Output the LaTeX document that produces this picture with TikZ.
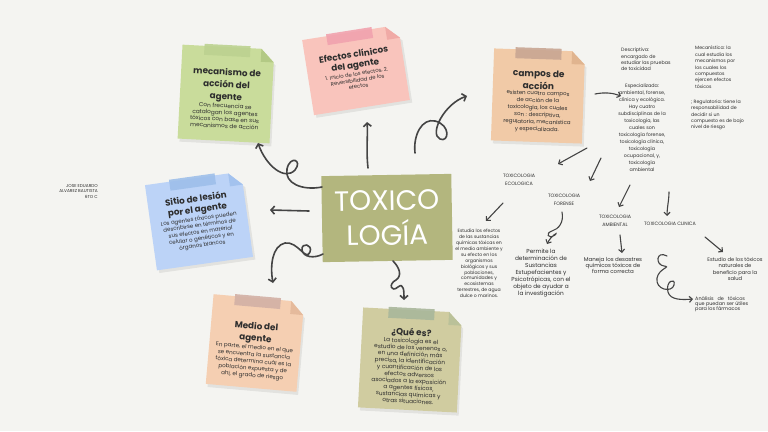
\documentclass[tikz,border=0pt]{standalone}
\usepackage{fontspec}
\setmainfont{Poppins}
\newfontfamily\headfont{Poppins}
\usetikzlibrary{arrows.meta}
\definecolor{ink}{HTML}{444444}
\definecolor{txt}{HTML}{2E2E2E}
\definecolor{bg}{HTML}{F4F4F1}
\definecolor{olive}{HTML}{B3B67E}
\definecolor{greenA}{HTML}{C9DC9B}\definecolor{greenB}{HTML}{B3C985}\definecolor{greenC}{HTML}{BCD290}
\definecolor{pinkA}{HTML}{F9C4BC}\definecolor{pinkB}{HTML}{F0AAA6}\definecolor{pinkC}{HTML}{F1A2AE}
\definecolor{peachA}{HTML}{F1CAA7}\definecolor{peachB}{HTML}{E0B48F}\definecolor{peachC}{HTML}{C8A693}
\definecolor{blueA}{HTML}{BCD3F7}\definecolor{blueB}{HTML}{A3C2EE}\definecolor{blueC}{HTML}{9EBFEA}
\definecolor{apriA}{HTML}{F5CFB2}\definecolor{apriB}{HTML}{E5BA9C}\definecolor{apriC}{HTML}{D2B0A5}
\definecolor{khakiA}{HTML}{D0CCA0}\definecolor{khakiB}{HTML}{BAC199}\definecolor{khakiC}{HTML}{A9B79B}
\tikzset{
  nt/.style={font=\headfont\bfseries\fontsize{9}{11}\selectfont},
  nb/.style={font=\fontsize{5.7}{6.5}\selectfont},
  ntitle/.style={nt, align=center, anchor=north, inner sep=0pt, transform shape, text=txt},
  nbody/.style={nb, align=center, anchor=north, inner sep=1pt, transform shape, text=txt},
  small/.style={font=\fontsize{4.6}{5.8}\selectfont, align=center, inner sep=0pt, text=txt},
  curly/.style={draw=ink, line width=1.6pt, line cap=round, line join=round, -{Straight Barb[length=3.5pt,width=8pt]}},
  thinarr/.style={draw=ink, line width=1.1pt, line cap=round, -{Straight Barb[length=3pt,width=6pt]}},
}
\newcommand\stickynote[8]{%
\begin{scope}[#1]
 \fill[black, opacity=.07] ({-#7/2+2},{-#8/2+3}) -- ({#7/2-11},{-#8/2+3}) -- ({#7/2+2},{-#8/2+16}) -- ({#7/2+2},{#8/2+3}) -- ({-#7/2+2},{#8/2+3}) -- cycle;
 \fill[#2A] ({-#7/2},{-#8/2}) -- ({#7/2-13},{-#8/2}) -- ({#7/2},{-#8/2+13}) -- ({#7/2},{#8/2}) -- ({-#7/2},{#8/2}) -- cycle;
 \fill[#2B] ({#7/2-13},{-#8/2}) -- ({#7/2-13},{-#8/2+13}) -- ({#7/2},{-#8/2+13}) -- cycle;
 \fill[#2C, opacity=.9] (-24,{-#8/2-2}) rectangle (22,{-#8/2+9});
 \node[ntitle] (#3) at (0,{-#8/2+#4}) {#5};
 \node[nbody] (#3-b) at (#3.south) {#6};
\end{scope}}
\begin{document}
\begin{tikzpicture}[x=1pt,y=-1pt]
\fill[bg] (0,0) rectangle (768,431);
\useasboundingbox (0,0) rectangle (768,431);

% sticky notes
\stickynote{shift={(226,94)},rotate=-3,nt/.style={font=\headfont\bfseries\fontsize{8.8}{12.3}\selectfont},nb/.style={font=\fontsize{5.8}{6.7}\selectfont}}{green}{meca}{21}{mecanismo de\\acción del\\agente}{Con frecuencia se\\catalogan los agentes\\tóxicos con base en sus\\mecanismos de acción}{92}{94}
\stickynote{shift={(356,70)},rotate=9,nt/.style={font=\headfont\bfseries\fontsize{8.8}{10.5}\selectfont},nb/.style={font=\fontsize{5.3}{6.3}\selectfont}}{pink}{efec}{18}{Efectos clínicos\\del agente}{1. Inicio de los efectos, 2.\\Reversibilidad de los\\efectos}{97}{76}
\stickynote{shift={(538,96)},rotate=-2,nt/.style={font=\headfont\bfseries\fontsize{9}{12.5}\selectfont},nb/.style={font=\fontsize{5.5}{7.2}\selectfont}}{peach}{camp}{20}{campos de\\acción}{existen cuatro campos\\de acción de la\\toxicología, los cuales\\son : descriptiva,\\regulatoria, mecanística\\y especializada.}{91}{92}
\stickynote{shift={(199,221)},rotate=8,nt/.style={font=\headfont\bfseries\fontsize{8.8}{11}\selectfont},nb/.style={font=\fontsize{5.5}{6.6}\selectfont}}{blue}{sitio}{16}{Sitio de lesión\\por el agente}{Los agentes tóxicos pueden\\describirse en términos de\\sus efectos en material\\celular o genéticos y en\\órganos blancos}{97}{86}
\stickynote{shift={(255,343)},rotate=-5,nt/.style={font=\headfont\bfseries\fontsize{8.8}{12}\selectfont},nb/.style={font=\fontsize{5.6}{7}\selectfont}}{apri}{medio}{24}{Medio del\\agente}{En parte, el medio en el que\\se encuentra la sustancia\\tóxica determina cuál es la\\población expuesta y de\\ahí, el grado de riesgo}{91}{90}
\stickynote{shift={(410,360)},rotate=-3,nt/.style={font=\headfont\bfseries\fontsize{8.8}{10}\selectfont},nb/.style={font=\fontsize{5.8}{6.7}\selectfont}}{khaki}{que}{18}{¿Qué es?}{La toxicología es el\\estudio de los venenos o,\\en una definición más\\precisa, la identificación\\y cuantificación de los\\efectos adversos\\asociados a la exposición\\a agentes físicos,\\sustancias químicas y\\otras situaciones.}{99}{100}

% central node
\node[fill=olive, text=white, rotate=1, minimum width=130pt, minimum height=86pt, align=center,
      font=\fontsize{28}{35}\selectfont] (tox) at (387,218) {TOXICO\\LOGÍA};

% author
\node[font=\fontsize{4.3}{5.6}\selectfont, align=right, anchor=north east, inner sep=0pt, text=txt] (autor) at (98,184) {JOSE EDUARDO\\ALVAREZ BAUTISTA\\6TO C};

% right-side texts
\node[small, align=left, anchor=north west, font=\fontsize{4.8}{6.2}\selectfont] (desc) at (621,48) {Descriptiva:\\encargado de\\estudiar las pruebas\\de toxicidad};
\node[small, anchor=north, font=\fontsize{4.8}{7}\selectfont] (espe) at (642,84) {Especializada:\\ambiental, forense,\\clínica y ecológica.\\Hay cuatro\\subdisciplinas de la\\toxicología, las\\cuales son\\toxicología forense,\\toxicología clínica,\\toxicología\\ocupacional, y,\\toxicología\\ambiental};
\node[small, align=left, anchor=north west, font=\fontsize{4.7}{6.4}\selectfont] (meca2) at (695,46) {Mecanística: la\\cual estudia los\\mecanismos por\\los cuales los\\compuestos\\ejercen efectos\\tóxicos};
\node[small, align=left, anchor=north west, font=\fontsize{4.7}{6.2}\selectfont] (regu) at (691,100) {; Regulatoria: tiene la\\responsabilidad de\\decidir si un\\compuesto es de bajo\\nivel de riesgo};

\node[small, font=\fontsize{4.8}{7.4}\selectfont] (ecol) at (519,180) {TOXICOLOGIA\\ECOLOGICA};
\node[small, font=\fontsize{4.8}{7.4}\selectfont] (fore) at (564,200) {TOXICOLOGIA\\FORENSE};
\node[small, font=\fontsize{4.8}{7.4}\selectfont] (ambi) at (615,221) {TOXICOLOGIA\\AMBIENTAL};
\node[small, font=\fontsize{4.8}{7.4}\selectfont] (clin) at (670,224) {TOXICOLOGIA CLINICA};

\node[small, anchor=north, font=\fontsize{4.6}{5.9}\selectfont] (estu) at (479,229) {Estudia los efectos\\de las sustancias\\químicas tóxicas en\\el medio ambiente y\\su efecto en los\\organismos\\biológicos y sus\\poblaciones,\\comunidades y\\ecosistemas\\terrestres, de agua\\dulce o marinos.};
\node[small, anchor=north, font=\fontsize{5.8}{6.9}\selectfont] (perm) at (541,249) {Permite la\\determinación de\\Sustancias\\Estupefacientes y\\Psicotrópicas, con el\\objeto de ayudar a\\la investigación};
\node[small, anchor=north, font=\fontsize{5.5}{6}\selectfont] (mane) at (613,257) {Maneja los desastres\\químicos tóxicos de\\forma correcta};
\node[small, anchor=north, font=\fontsize{5.2}{6.4}\selectfont] (estn) at (735,257) {Estudio de los tóxicos\\naturales de\\beneficio para la\\salud};
\node[small, align=left, anchor=north west, font=\fontsize{4.9}{5.4}\selectfont] (anal) at (695,296) {Análisis\ \ \ de\ \ \ tóxicos\\que puedan ser útiles\\para los fármacos};

% curly arrows from the centre
\coordinate (a1s) at (322,187); \coordinate (a1e) at (258,143);
\draw[curly] (a1s) .. controls (302,191) and (284,183) .. (287,169) .. controls (290,155) and (303,160) .. (295,170) .. controls (285,181) and (266,166) .. (a1e);
\coordinate (a2s) at (368,168); \coordinate (a2e) at (367,122);
\draw[curly] (a2s) .. controls (366,150) and (368,135) .. (a2e);
\coordinate (a3s) at (309,211); \coordinate (a3e) at (270,210);
\draw[curly] (a3s) -- (a3e);
\coordinate (a4s) at (323,254); \coordinate (a4e) at (273,283);
\draw[curly] (a4s) .. controls (314,259) and (303,257) .. (302,250) .. controls (301,242) and (313,244) .. (310,252) .. controls (306,262) and (298,241) .. (285,243) .. controls (272,246) and (270,266) .. (a4e);
\coordinate (a5s) at (393,261); \coordinate (a5e) at (404,300);
\draw[curly] (a5s) .. controls (400,268) and (402,276) .. (396,280) .. controls (388,284) and (391,293) .. (398,287) .. controls (404,282) and (404,292) .. (a5e);
\coordinate (a6s) at (415,153); \coordinate (a6e) at (467,96);
\draw[curly] (a6s) .. controls (413,135) and (422,118) .. (435,121) .. controls (451,125) and (449,143) .. (440,139) .. controls (429,134) and (444,104) .. (a6e);

% right side arrows
\coordinate (b1s) at (595,94); \coordinate (b1e) at (621,96);
\draw[thinarr] (b1s) .. controls (605,92) and (613,93) .. (b1e);
\coordinate (b2s) at (587,148); \coordinate (b2e) at (558,164);
\draw[thinarr] (b2s) -- (b2e);
\coordinate (b3s) at (601,158); \coordinate (b3e) at (590,181);
\draw[thinarr] (b3s) -- (b3e);
\coordinate (b4s) at (630,185); \coordinate (b4e) at (619,207);
\draw[thinarr] (b4s) -- (b4e);
\coordinate (b5s) at (669,192); \coordinate (b5e) at (667,216);
\draw[thinarr] (b5s) .. controls (669,200) and (667,208) .. (b5e);
\coordinate (b6s) at (503,203); \coordinate (b6e) at (486,221);
\draw[thinarr] (b6s) -- (b6e);
\coordinate (b7s) at (620,235); \coordinate (b7e) at (622,253);
\draw[thinarr] (b7s) -- (b7e);
\coordinate (b8s) at (705,237); \coordinate (b8e) at (723,252);
\draw[thinarr] (b8s) -- (b8e);
\coordinate (c1s) at (562,212); \coordinate (c1e) at (547,244);
\draw[thinarr] (c1s) .. controls (564,222) and (559,229) .. (552,231) .. controls (545,233) and (548,240) .. (555,235) .. controls (559,231) and (551,236) .. (c1e);
\coordinate (c2s) at (667,256); \coordinate (c2e) at (693,299);
\draw[thinarr] (c2s) .. controls (656,250) and (655,265) .. (664,266) .. controls (672,267) and (659,268) .. (657,278) .. controls (655,290) and (672,293) .. (674,285) .. controls (676,277) and (665,281) .. (668,292) .. controls (670,300) and (682,300) .. (c2e);
\end{tikzpicture}
\end{document}
